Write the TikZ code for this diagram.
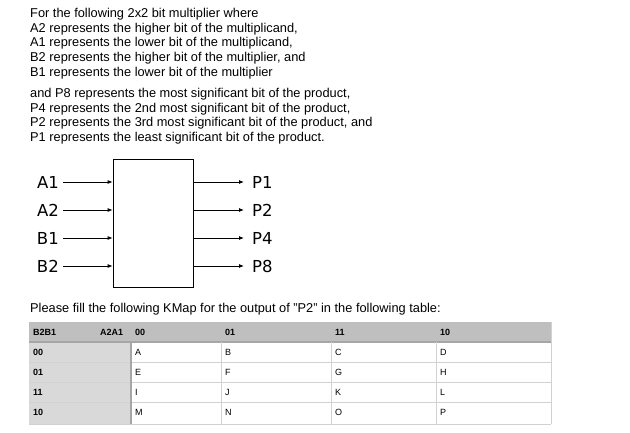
\documentclass[tikz,border=0pt]{standalone}
\usepackage{fontspec}
\setmainfont{Liberation Sans}
\newfontfamily\dv{DejaVu Sans}
\usetikzlibrary{arrows.meta}
\begin{document}
\begin{tikzpicture}[x=1pt,y=-1pt,
  txt/.style={anchor=west,inner sep=0pt,font=\fontsize{12.8}{14}\selectfont},
  pin/.style={inner sep=0pt,font=\dv\fontsize{16.5}{18}\selectfont},
  wire/.style={-{Latex[length=5pt,width=4pt]},line width=0.8pt},
  cell/.style={anchor=west,inner sep=0pt,font=\fontsize{9}{10}\selectfont},
  hcell/.style={cell,font=\bfseries\fontsize{9}{10}\selectfont}]
\useasboundingbox (0,0) rectangle (630,433);
\foreach \t [count=\i] in {For the following 2x2 bit multiplier where,A2 represents the higher bit of the multiplicand{,},A1 represents the lower bit of the multiplicand{,},B2 represents the higher bit of the multiplier{,} and,B1 represents the lower bit of the multiplier}
  \node[txt] (l\i) at (30,{14+(\i-1)*14.7}) {\t};
\foreach \t [count=\i] in {and P8 represents the most significant bit of the product{,},P4 represents the 2nd most significant bit of the product{,},P2 represents the 3rd most significant bit of the product{,} and,P1 represents the least significant bit of the product.}
  \node[txt] (m\i) at (30,{94+(\i-1)*14.7}) {\t};
\node[draw,line width=0.8pt,minimum width=80pt,minimum height=128pt,inner sep=0pt] (box) at (153,223) {};
\foreach \n/\y in {A1/182,A2/210,B1/238,B2/266}{
  \node[pin,anchor=east] (\n) at (59,\y) {\n};
  \coordinate (i\n) at (box.west |- 0,\y);
  \draw[wire] (\n.east)++(4,0) -- (i\n);}
\foreach \n/\y in {P1/182,P2/210,P4/238,P8/266}{
  \node[pin,anchor=west] (\n) at (252,\y) {\n};
  \coordinate (o\n) at (box.east |- 0,\y);
  \draw[wire] (o\n) -- ([xshift=-8pt]\n.west);}
\node[txt] (pl) at (30,309) {Please fill the following KMap for the output of "P2" in the following table:};
% table
\fill[gray!50] (29,322) rectangle (551,342);
\fill[gray!30] (29,342) rectangle (131,424);
\foreach \y in {362,382,402,424} \draw[gray!35,line width=0.6pt] (29,\y) -- (551,\y);
\draw[gray!70,line width=1.2pt] (29,342) -- (551,342);
\draw[gray!70,line width=1.2pt] (131,342) -- (131,424);
\foreach \x in {221,331,436} \draw[gray!35,line width=0.6pt] (\x,342) -- (\x,424);
\draw[gray!35,line width=0.6pt] (551,322) -- (551,424);
\node[hcell] (h0) at (33,332) {B2B1};
\node[hcell] (h1) at (100,332) {A2A1};
\node[hcell] (h2) at (135,332) {00};
\node[hcell] (h3) at (225,332) {01};
\node[hcell] (h4) at (335,332) {11};
\node[hcell] (h5) at (440,332) {10};
\foreach \r/\a/\b/\c/\d [count=\i] in {00/A/B/C/D,01/E/F/G/H,11/I/J/K/L,10/M/N/O/P}{
  \node[hcell] (r\i) at (33,{352+(\i-1)*20}) {\r};
  \node[cell] (a\i) at (135,{352+(\i-1)*20}) {\a};
  \node[cell] (b\i) at (225,{352+(\i-1)*20}) {\b};
  \node[cell] (c\i) at (335,{352+(\i-1)*20}) {\c};
  \node[cell] (d\i) at (440,{352+(\i-1)*20}) {\d};}
\end{tikzpicture}
\end{document}
